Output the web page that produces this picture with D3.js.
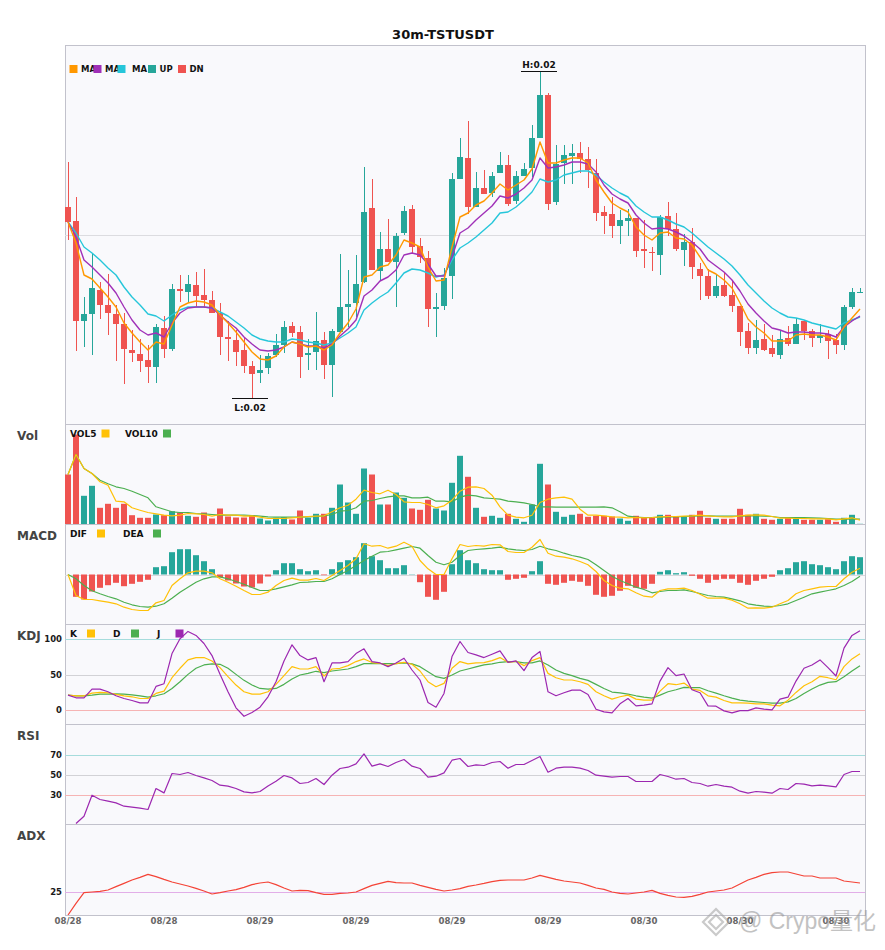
<!DOCTYPE html>
<html>
<head>
<meta charset="utf-8">
<script src="https://cdn.jsdelivr.net/npm/d3@7/dist/d3.min.js"></script>
<style>
  body { margin: 0; background: #fff; }
  svg { display: block; font-family: "DejaVu Sans", sans-serif; }
</style>
</head>
<body>
<div id="wrapper"></div>
<script>
// prices are stored in units of 0.00001 USDT
const PRICE_UNIT = 1e-5

const open = [
  2028, 2014, 1914, 1921, 1945, 1930, 1921, 1911, 1885, 1881,
  1875, 1868, 1907, 1886, 1946, 1943, 1950, 1940, 1935, 1922,
  1898, 1895, 1885, 1869, 1862, 1867, 1880, 1890, 1909, 1903,
  1880, 1883, 1895, 1870, 1903, 1928, 1932, 1953, 2027, 1964,
  1986, 1973, 2002, 2026, 1989, 1977, 1926, 1929, 1959, 2056,
  2077, 2028, 2047, 2042, 2062, 2070, 2034, 2059, 2067, 2097,
  2140, 2033, 2072, 2079, 2082, 2076, 2062, 2023, 2021, 2009,
  2014, 2017, 1986, 1983, 1980, 2019, 2006, 1985, 1993, 1966,
  1959, 1939, 1950, 1940, 1929, 1904, 1887, 1896, 1887, 1880,
  1897, 1891, 1914, 1904, 1897, 1901, 1895, 1890, 1928, 1942,
]
const high = [
  2073, 2038, 1938, 1982, 1953, 1961, 1930, 1922, 1905, 1896,
  1890, 1911, 1919, 1951, 1960, 1960, 1963, 1966, 1944, 1932,
  1914, 1905, 1897, 1874, 1880, 1882, 1901, 1914, 1913, 1909,
  1896, 1923, 1903, 1906, 1981, 1965, 1980, 2068, 2056, 2003,
  2016, 2002, 2029, 2030, 1997, 1984, 1942, 1967, 2062, 2097,
  2114, 2063, 2065, 2063, 2083, 2080, 2064, 2072, 2110, 2163,
  2142, 2090, 2090, 2091, 2093, 2088, 2076, 2029, 2038, 2025,
  2026, 2017, 2015, 1988, 2020, 2033, 2022, 2001, 2007, 1972,
  1966, 1960, 1963, 1954, 1929, 1912, 1915, 1911, 1900, 1905,
  1909, 1917, 1914, 1906, 1911, 1905, 1901, 1930, 1947, 1947,
]
const low = [
  1995, 1884, 1888, 1880, 1916, 1900, 1874, 1851, 1873, 1863,
  1852, 1852, 1877, 1884, 1933, 1932, 1928, 1927, 1922, 1880,
  1874, 1869, 1862, 1837, 1852, 1861, 1878, 1882, 1898, 1857,
  1865, 1865, 1856, 1838, 1903, 1908, 1918, 1952, 1965, 1955,
  1973, 1928, 2000, 1982, 1972, 1908, 1898, 1925, 1936, 2056,
  2021, 2028, 2041, 2038, 2062, 2029, 2031, 2059, 2058, 2097,
  2025, 2030, 2051, 2051, 2062, 2047, 2014, 2001, 1997, 1991,
  1999, 1978, 1967, 1964, 1960, 1999, 1984, 1969, 1956, 1935,
  1936, 1937, 1938, 1923, 1889, 1881, 1881, 1884, 1878, 1876,
  1889, 1891, 1895, 1888, 1892, 1876, 1881, 1885, 1926, 1942,
]
const close = [
  2013, 1914, 1921, 1947, 1930, 1922, 1911, 1886, 1882, 1874,
  1868, 1908, 1886, 1946, 1944, 1951, 1939, 1935, 1922, 1898,
  1896, 1883, 1869, 1861, 1865, 1879, 1890, 1908, 1902, 1878,
  1882, 1894, 1870, 1904, 1928, 1931, 1951, 2023, 1965, 1986,
  1973, 1999, 2024, 1988, 1978, 1926, 1928, 1957, 2056, 2078,
  2028, 2047, 2041, 2059, 2070, 2031, 2059, 2066, 2097, 2140,
  2031, 2071, 2080, 2082, 2076, 2065, 2022, 2019, 2009, 2015,
  2017, 1984, 1984, 1982, 2018, 2006, 1986, 1993, 1968, 1959,
  1939, 1949, 1939, 1929, 1903, 1887, 1895, 1885, 1881, 1896,
  1891, 1911, 1904, 1897, 1900, 1894, 1890, 1928, 1943, 1943,
]
const ma5 = [
  2013, 1992, 1960, 1956, 1947, 1938, 1928, 1912, 1902, 1893,
  1885, 1893, 1891, 1910, 1928, 1932, 1934, 1933, 1930, 1920,
  1912, 1903, 1893, 1883, 1876, 1875, 1879, 1888, 1893, 1891,
  1888, 1889, 1885, 1890, 1902, 1912, 1926, 1958, 1960, 1968,
  1970, 1980, 1995, 1992, 1988, 1968, 1954, 1955, 1988, 2018,
  2022, 2030, 2034, 2042, 2051, 2045, 2050, 2055, 2066, 2093,
  2072, 2072, 2075, 2077, 2077, 2072, 2055, 2043, 2032, 2027,
  2023, 2008, 2000, 1995, 2002, 2003, 1997, 1996, 1990, 1978,
  1965, 1961, 1955, 1947, 1932, 1916, 1908, 1902, 1894, 1894,
  1894, 1900, 1901, 1900, 1900, 1898, 1895, 1908, 1917, 1926,
]
const ma10 = [
  2013, 1998, 1975, 1968, 1960, 1952, 1942, 1928, 1915, 1905,
  1900, 1902, 1898, 1912, 1922, 1927, 1928, 1928, 1927, 1920,
  1913, 1907, 1898, 1891, 1885, 1884, 1885, 1888, 1893, 1891,
  1889, 1889, 1887, 1891, 1899, 1906, 1915, 1939, 1945, 1954,
  1958, 1965, 1980, 1982, 1980, 1971, 1959, 1959, 1978, 2002,
  2007, 2015, 2022, 2029, 2039, 2037, 2041, 2047, 2055, 2077,
  2067, 2068, 2070, 2073, 2073, 2071, 2063, 2050, 2041, 2036,
  2032, 2020, 2012, 2006, 2007, 2006, 2003, 1999, 1993, 1986,
  1975, 1969, 1963, 1955, 1944, 1931, 1922, 1914, 1907, 1905,
  1902, 1903, 1903, 1902, 1902, 1901, 1898, 1908, 1914, 1919,
]
const ma20 = [
  2013, 2002, 1988, 1982, 1975, 1967, 1960, 1948, 1938, 1930,
  1921, 1919, 1914, 1920, 1925, 1928, 1928, 1928, 1927, 1923,
  1919, 1913, 1907, 1900, 1896, 1894, 1893, 1893, 1896, 1895,
  1893, 1892, 1890, 1892, 1897, 1902, 1908, 1925, 1932, 1938,
  1943, 1952, 1962, 1966, 1965, 1962, 1958, 1960, 1975, 1987,
  1992, 1998, 2005, 2012, 2022, 2023, 2028, 2035, 2043, 2056,
  2053, 2055, 2060, 2062, 2064, 2064, 2060, 2053, 2047, 2042,
  2038, 2029, 2023, 2018, 2018, 2015, 2011, 2008, 2002, 1995,
  1988, 1982, 1976, 1969, 1960, 1950, 1942, 1934, 1927, 1922,
  1918, 1917, 1915, 1912, 1910, 1908, 1906, 1912, 1915, 1918,
]

const volume = [
  50, 90, 28.7, 38.7, 16.7, 20.7, 16.7, 20.7, 9.3, 6.7,
  6.7, 10, 9.3, 13.3, 12, 8.7, 7.7, 12, 6, 16,
  8, 7, 7, 9.3, 6, 4, 6.7, 7.3, 5, 14,
  6.7, 10.7, 10.7, 16.7, 40, 22, 10.7, 56, 50, 20,
  20, 32, 26.7, 16, 14.7, 24.7, 16, 14, 41.7, 68.7,
  47.7, 16.7, 7.7, 8.7, 6.7, 10.7, 5.7, 2.7, 20, 60.7,
  40, 12.7, 7.7, 9.7, 10.7, 7.7, 8.7, 8.7, 8, 6,
  3.7, 8.7, 6.7, 6.7, 9.7, 9.7, 7.7, 7.7, 9.7, 13.7,
  6.7, 5.7, 5.7, 5.7, 15.7, 9.7, 10.7, 5.7, 4.7, 5.7,
  6.7, 5.7, 4.7, 4.7, 4.7, 5.3, 2.7, 6.7, 9.7, 0.7,
]
const vol5 = [
  50, 70, 56, 51, 42.7, 39.3, 23.3, 22.7, 16.7, 14.3,
  12, 10.7, 9.3, 8.7, 9.3, 11, 10.7, 10, 8.3, 10,
  9.3, 9.3, 8.3, 8.7, 7.3, 6, 6, 6, 6.7, 7.3,
  8, 8.3, 8.7, 12.7, 16.7, 19.3, 25.3, 34.3, 32, 30.7,
  34.3, 30, 22.7, 22, 22, 20, 16.7, 18.7, 24.3, 33.3,
  37.3, 37.7, 36, 29.3, 17.7, 9.3, 7.3, 6.7, 9.3, 22,
  25.3, 26.7, 27.3, 25.3, 15.3, 9.3, 9.3, 8.7, 7.7, 7.3,
  6.7, 7, 6.7, 7, 7.7, 8, 8, 8.3, 8.7, 9.3,
  8.7, 8, 7.7, 7.7, 8.7, 9.3, 9.7, 9.3, 8, 6.3,
  6.3, 6, 6, 5.7, 5.7, 5.7, 4.7, 5.7, 6.7, 4.3,
]
const vol10 = [
  50, 70, 56, 51, 44.3, 40.7, 37.7, 36, 33.3, 30,
  26.7, 17.7, 15.3, 12.7, 12, 12, 11, 10.7, 10, 9.3,
  9.3, 9.3, 9.3, 9, 8.3, 7.7, 7.3, 7.3, 7.3, 7.3,
  7.7, 8, 8.7, 10, 13.3, 14, 16.7, 23.3, 24, 26,
  27.7, 28.7, 28.7, 26.7, 26.7, 27.3, 23.3, 23.3, 22.7, 27.3,
  29.3, 28.7, 26.7, 26, 25.3, 23.3, 22.7, 21.7, 20, 17.7,
  17.7, 17.3, 17.3, 17.3, 17.3, 17.3, 17.3, 17.7, 16.7, 12.7,
  8.3, 7.3, 7, 7, 7.3, 7.7, 7.7, 8, 8.3, 8.7,
  8.7, 8.3, 8.3, 8.3, 8.3, 8.7, 8.7, 8.3, 8, 7,
  7, 7, 7, 6.7, 6.3, 6, 5.3, 5.3, 5.7, 5.3,
]

const macdHist = [
  0, -22.3, -25, -17, -13.3, -10.7, -8.3, -11.7, -9.3, -7.3,
  -5.3, 7.3, 8.3, 22.3, 25.3, 25.3, 19.3, 13.3, 5.3, -3,
  -6, -9, -12, -13, -9, -2, 4.3, 11.3, 11.3, 5.3,
  3.3, 4.3, -0.7, 5.3, 12.3, 14.3, 17.3, 31.3, 18.3, 14.3,
  6.3, 6.3, 9.3, 0.3, -7.7, -22.3, -25.3, -17.3, 10.3, 24.3,
  14.3, 11.3, 5.3, 4.3, 4.3, -5.3, -4.3, -3.3, 3.3, 13.3,
  -9.3, -10.3, -8.3, -6.3, -7.3, -11.3, -20.3, -22.3, -21.3, -16.3,
  -11.3, -13.3, -14.3, -9.3, 2.7, 4.3, 1.3, 2.3, -1.3, -4.3,
  -8.3, -5.3, -4.3, -4.3, -8.3, -10.3, -6.3, -4.3, -2.3, 4.3,
  6.3, 12.3, 13.3, 10.3, 9.3, 7.3, 5.3, 13.3, 18.3, 17.3,
]
const dif = [
  0, -21, -25, -25, -26.3, -27.7, -29.3, -32.7, -35, -36,
  -36, -28.3, -26, -11, -4.3, 1.7, 3.3, 3.3, 1.7, -4.3,
  -7.7, -11.7, -16, -20, -20, -17.7, -11, -6, -3.7, -5.7,
  -5.7, -4, -6, -1, 4, 9, 15.7, 30.7, 28.3, 29,
  26.3, 28.3, 32.3, 28.3, 14, 5.7, 0, 0, 15.7, 30,
  28, 29, 28.3, 30, 29.7, 23, 22, 22, 27.3, 35,
  21.3, 18.3, 17.3, 15.7, 13, 9.7, 3, -6, -11, -13.7,
  -14.3, -18.3, -21.7, -22.7, -16, -14.3, -14.3, -13.7, -16, -19.7,
  -23.7, -23.7, -23.7, -25.7, -29.3, -33.7, -33.3, -33.7, -32.7, -29.3,
  -26, -19.3, -16, -14.3, -12.7, -12, -12, -4.3, 2.3, 6.3,
]
const dea = [
  0, -4.3, -11, -16.3, -19.3, -22, -24.3, -27.7, -30.3, -32,
  -32.7, -31.7, -29.3, -23.7, -17.7, -12.7, -7.7, -4.3, -2.3, -2.3,
  -4.3, -7, -9.7, -13, -16, -16, -14.3, -12.3, -10.3, -8,
  -7.7, -7, -7, -4.3, 0, 4, 9, 14, 18.3, 22.3,
  23, 24.7, 26.3, 28, 26.3, 19, 12.3, 9.7, 12.3, 19,
  24, 25, 25.7, 26.3, 27.3, 25.7, 24.7, 24, 25, 28.3,
  25.7, 24, 21.3, 19, 17.3, 15, 9.7, 4, -1.7, -6,
  -9.3, -12.7, -15, -18.3, -17, -16, -16, -15.3, -17, -19,
  -21, -22, -22.7, -24.3, -26.3, -29.3, -30.7, -31.7, -32, -31,
  -29.3, -26, -22.7, -19.3, -17.7, -16, -14.3, -11, -7, -1.7,
]

const kLine = [
  21.1, 20.2, 20.2, 23.9, 24.9, 24.4, 22.1, 20.2, 18.8, 16.4,
  16.4, 23.5, 26.8, 45.5, 58.7, 70.4, 73.7, 73.7, 69, 59.6,
  47, 35.2, 25.8, 22.5, 22.5, 25.8, 36.2, 48.4, 61, 57.7,
  57.7, 61, 47.9, 57.7, 58.7, 62.4, 68.1, 71.8, 66.7, 65.7,
  62.4, 65.3, 67.1, 64.3, 54.9, 39.9, 32.9, 37.6, 58.7, 68.1,
  64.8, 66.2, 66.7, 69.5, 73.7, 67.1, 68.5, 62.4, 69.5, 73.7,
  51.6, 45.5, 42.3, 42.3, 39.9, 36.2, 25.8, 20.2, 15.5, 18.8,
  21.1, 15.5, 14.1, 14.1, 26.8, 37.1, 35.7, 38, 29.6, 27.7,
  20.2, 18.3, 13.6, 10.3, 10.3, 9.9, 8.9, 8.9, 7, 6.1,
  14.1, 24.9, 34.3, 39.9, 47.4, 45.5, 42.7, 61, 71.8, 78.9,
]
const dLine = [
  21.1, 20.2, 20.2, 21.1, 22.5, 22.5, 23, 22.5, 21.6, 20.2,
  18.3, 20.2, 23, 30.5, 39.9, 50.2, 58.7, 63.4, 64.8, 64.3,
  58.7, 50.2, 41.8, 35.2, 30.5, 29.6, 30.5, 36.2, 43.7, 49.3,
  51.6, 54.5, 52.6, 54.9, 56.3, 57.7, 61, 65.3, 65.3, 65.3,
  65.3, 65.3, 66.2, 64.8, 61, 54, 47, 44.6, 49.3, 54.9,
  57.7, 60.6, 63.4, 64.8, 67.1, 68.1, 68.1, 66.2, 66.2, 69,
  63.4, 56.3, 51.6, 48.4, 44.6, 41.8, 36.2, 30.5, 25.4, 24.4,
  22.5, 20.2, 18.3, 16.9, 21.1, 25.8, 28.6, 31.9, 31.5, 31.5,
  27.2, 23.9, 20.2, 16.9, 14.1, 12.7, 11.7, 10.8, 9.9, 9.9,
  11.7, 16.4, 23.5, 29.6, 35.2, 39, 39.9, 47, 54.9, 62.4,
]
const jLine = [
  21.1, 17.4, 17.4, 29.6, 29.6, 25.8, 20.2, 16.4, 13.6, 10.3,
  10.3, 33.3, 37.1, 79.3, 100, 110.3, 104.7, 93.4, 76.5, 50.2,
  25.8, 3.3, -8.5, -3.3, 4.2, 18.8, 39.9, 69, 91.6, 76.5,
  70.4, 73.7, 39.9, 66.2, 66.2, 68.1, 79.3, 85.9, 68.1, 66.2,
  61, 66.2, 72.8, 56.3, 42.3, 10.8, 4.2, 23.5, 75.1, 96.2,
  80.8, 77.5, 73.7, 78.4, 83.1, 67.1, 69, 55.4, 73.7, 82.2,
  25.8, 20.2, 24.4, 28.2, 28.2, 22.1, 1.4, -2.3, -3.8, 8.9,
  16.4, 6.1, 7, 8.9, 40.8, 59.6, 48.4, 50.7, 28.6, 24.4,
  6.1, 5.6, -0.9, -3.8, -0.5, -0.5, 3.3, 1.4, 0.5, 15.5,
  18.3, 40.8, 58.7, 63.4, 70.4, 59.6, 47.9, 86.9, 104.7, 111.3,
]

const rsi = [
  null, 1, 8.3, 29.3, 25, 23.3, 21.6, 18.3, 17.3, 16.3,
  15, 36, 31.6, 51, 50, 52, 49, 46.6, 44, 39.3,
  38.3, 36, 32.6, 31.6, 33, 38.6, 43.3, 49, 46.6, 41,
  42, 46, 40, 49.3, 56, 57.3, 60.6, 70.6, 58.3, 60.6,
  58, 62, 65, 58.3, 56, 47.3, 48.3, 51.6, 64.3, 66,
  58, 59.6, 59, 62, 63, 56.3, 60, 60, 64, 68,
  52.3, 56.3, 57.3, 57.3, 56.3, 54, 49.3, 48.3, 47.3, 48,
  48, 43, 43, 43, 50, 48, 45.3, 46, 42, 41,
  38.3, 40, 38.3, 37.3, 33.3, 31.3, 33, 32.3, 31.3, 36,
  35, 41, 40.3, 38.6, 39.3, 38.6, 37.6, 50, 53, 53,
]
const adx = [
  13.5, 19.3, 24.7, 25, 25.3, 26, 27.7, 29.3, 31, 32.3,
  33.8, 32.7, 31.3, 30, 29, 28, 26.8, 25.5, 24, 24.7,
  25.5, 26.2, 27.3, 28.7, 29.5, 30, 28.7, 27, 25.5, 25.8,
  25.7, 24.7, 23.8, 23.8, 24.3, 24.5, 25, 26.7, 28.3, 29.3,
  30.3, 29.7, 29.5, 29.5, 28.3, 27.3, 26.3, 25.5, 26, 26.7,
  27.8, 28.5, 29.3, 30.2, 30.8, 31, 31, 31, 32, 33.3,
  32.3, 31.3, 30.5, 30, 29.5, 28.3, 27, 26.3, 25, 24.3,
  24, 24.5, 25, 25.8, 24.3, 23.3, 22.5, 22.3, 22.8, 23.8,
  25, 25.5, 26, 27, 29, 31, 32.3, 33.8, 34.7, 35,
  35, 34, 33, 33, 32, 32, 32, 30.5, 30, 29.5,
]

const tickIndex = [0, 12, 24, 36, 48, 60, 72, 84, 96]
const tickLabels = ["08/28", "08/28", "08/29", "08/29", "08/29", "08/29", "08/30", "08/30", "08/30"]

const renderChart = () => {
  const UP = "#26a69a"
  const DOWN = "#ef5350"

  // 1) Dimensions
  const dimensions = {
    width: 885,
    height: 950,
    left: 65,
    right: 865,
  }
  const panels = {
    main: { top: 45, bottom: 424 },
    vol: { top: 424, bottom: 524 },
    macd: { top: 524, bottom: 624 },
    kdj: { top: 624, bottom: 724 },
    rsi: { top: 724, bottom: 824 },
    adx: { top: 824, bottom: 915 },
  }

  // 2) Draw canvas
  const svg = d3
    .select("#wrapper")
    .append("svg")
    .attr("width", dimensions.width)
    .attr("height", dimensions.height)

  const defs = svg.append("defs")
  Object.entries(panels).forEach(([name, p]) => {
    defs
      .append("clipPath")
      .attr("id", `clip-${name}`)
      .append("rect")
      .attr("x", dimensions.left)
      .attr("y", p.top)
      .attr("width", dimensions.right - dimensions.left)
      .attr("height", p.bottom - p.top)
  })

  svg
    .append("text")
    .attr("x", 443)
    .attr("y", 39)
    .attr("text-anchor", "middle")
    .attr("font-size", 13)
    .attr("font-weight", "bold")
    .attr("fill", "#111")
    .text("30m-TSTUSDT")

  Object.values(panels).forEach((p) => {
    svg
      .append("rect")
      .attr("x", dimensions.left + 0.5)
      .attr("y", p.top + 0.5)
      .attr("width", dimensions.right - dimensions.left)
      .attr("height", p.bottom - p.top)
      .attr("fill", "#f9f9fc")
      .attr("stroke", "#c2c2cc")
  })

  // 3) Scales
  const xScale = d3
    .scaleBand()
    .domain(d3.range(open.length))
    .range([dimensions.left - 1, dimensions.right - 1])
    .paddingInner(0.25)
    .paddingOuter(0.125)
  const cx = (i) => xScale(i) + xScale.bandwidth() / 2

  const yMain = d3.scaleLinear().domain([1811, 2190]).range([424, 45])
  const yVol = d3.scaleLinear().domain([0, 100]).range([524.5, 424.5])
  const yMacd = d3.scaleLinear().domain([-50, 50]).range([624.5, 524.5])
  const yKdj = d3.scaleLinear().domain([-20, 120]).range([724.5, 624.5])
  const yRsi = d3.scaleLinear().domain([0, 100]).range([824.5, 724.5])
  const yAdx = d3.scaleLinear().domain([13.5, 58.5]).range([915, 825])

  const layer = (name) => svg.append("g").attr("clip-path", `url(#clip-${name})`)

  const drawLine = (g, values, y, color, width = 1.2) => {
    const lineGenerator = d3
      .line()
      .defined((d) => d != null)
      .x((d, i) => cx(i))
      .y((d) => y(d))
    g.append("path")
      .attr("d", lineGenerator(values))
      .attr("fill", "none")
      .attr("stroke", color)
      .attr("stroke-width", width)
      .attr("stroke-linejoin", "round")
  }

  const refLine = (g, y, v, color) => {
    g.append("line")
      .attr("x1", dimensions.left)
      .attr("x2", dimensions.right)
      .attr("y1", Math.round(y(v)) + 0.5)
      .attr("y2", Math.round(y(v)) + 0.5)
      .attr("stroke", color)
      .attr("stroke-width", 1)
  }

  const legend = (items, y) => {
    items.forEach((it) => {
      if (it.box) {
        svg
          .append("rect")
          .attr("x", it.box)
          .attr("y", y - 4)
          .attr("width", 8)
          .attr("height", 8)
          .attr("fill", it.color)
      }
      if (it.label) {
        svg
          .append("text")
          .attr("x", it.x)
          .attr("y", y + 3.3)
          .attr("font-size", it.size || 9)
          .attr("font-weight", "bold")
          .attr("fill", "#111")
          .text(it.label)
      }
    })
  }

  const leftTicks = (y, values) => {
    const g = svg
      .append("g")
      .attr("transform", `translate(${dimensions.left},0)`)
      .call(d3.axisLeft(y).tickValues(values).tickSize(0).tickPadding(3))
    g.select(".domain").remove()
    g.selectAll("text")
      .attr("font-size", 8.5)
      .attr("font-weight", "bold")
      .attr("font-family", "DejaVu Sans")
      .attr("fill", "#1a1a1a")
  }

  // 4) Main candle panel
  const main = layer("main")
  refLine(main, yMain, 2000, "#dcdce0")

  const candles = main
    .selectAll(".candle")
    .data(open.map((o, i) => ({ i, o, h: high[i], l: low[i], c: close[i] })))
    .join("g")
    .attr("class", "candle")

  candles
    .append("line")
    .attr("x1", (d) => Math.floor(cx(d.i)) + 0.5)
    .attr("x2", (d) => Math.floor(cx(d.i)) + 0.5)
    .attr("y1", (d) => yMain(d.h))
    .attr("y2", (d) => yMain(d.l))
    .attr("stroke", (d) => (d.c >= d.o ? UP : DOWN))
    .attr("stroke-width", 1)

  candles
    .append("rect")
    .attr("x", (d) => xScale(d.i))
    .attr("width", xScale.bandwidth())
    .attr("y", (d) => yMain(Math.max(d.o, d.c)))
    .attr("height", (d) => Math.max(1, Math.abs(yMain(d.o) - yMain(d.c))))
    .attr("fill", (d) => (d.c >= d.o ? UP : DOWN))

  drawLine(main, ma20, yMain, "#26c6da", 1.4)
  drawLine(main, ma10, yMain, "#a030b8", 1.4)
  drawLine(main, ma5, yMain, "#ff9800", 1.4)

  // high / low markers
  const hiIndex = d3.maxIndex(high)
  const loIndex = d3.minIndex(low)
  const hiY = Math.round(yMain(high[hiIndex])) - 0.5
  const loY = Math.round(yMain(low[loIndex])) + 0.5
  svg
    .append("line")
    .attr("x1", cx(hiIndex) - 19)
    .attr("x2", cx(hiIndex) + 17)
    .attr("y1", hiY)
    .attr("y2", hiY)
    .attr("stroke", "#111")
    .attr("stroke-width", 1.2)
  svg
    .append("text")
    .attr("x", cx(hiIndex) - 1)
    .attr("y", hiY - 4)
    .attr("text-anchor", "middle")
    .attr("font-size", 9)
    .attr("font-weight", "bold")
    .attr("fill", "#111")
    .text(`H:${(high[hiIndex] * PRICE_UNIT).toFixed(2)}`)
  svg
    .append("line")
    .attr("x1", cx(loIndex) - 20)
    .attr("x2", cx(loIndex) + 16)
    .attr("y1", loY)
    .attr("y2", loY)
    .attr("stroke", "#111")
    .attr("stroke-width", 1.2)
  svg
    .append("text")
    .attr("x", cx(loIndex) - 2)
    .attr("y", loY + 12)
    .attr("text-anchor", "middle")
    .attr("font-size", 9)
    .attr("font-weight", "bold")
    .attr("fill", "#111")
    .text(`L:${(low[loIndex] * PRICE_UNIT).toFixed(2)}`)

  legend(
    [
      { box: 69.5, color: "#ff9800", x: 81, label: "MA", size: 8.5 },
      { box: 93.5, color: "#a030b8", x: 105, label: "MA", size: 8.5 },
      { box: 117.5, color: "#26c6da", x: 132, label: "MA", size: 8.5 },
      { box: 148, color: UP, x: 159.5, label: "UP", size: 8.5 },
      { box: 178, color: DOWN, x: 189.5, label: "DN", size: 8.5 },
    ],
    69
  )

  // 5) Volume panel
  const vol = layer("vol")
  vol
    .selectAll("rect")
    .data(volume)
    .join("rect")
    .attr("x", (d, i) => xScale(i))
    .attr("width", xScale.bandwidth())
    .attr("y", (d) => yVol(d))
    .attr("height", (d) => yVol(0) - yVol(d))
    .attr("fill", (d, i) => (close[i] >= open[i] ? UP : DOWN))
  drawLine(vol, vol10, yVol, "#4caf50", 1.2)
  drawLine(vol, vol5, yVol, "#ffc107", 1.2)
  legend(
    [
      { x: 70, label: "VOL5", box: 101.5, color: "#ffc107" },
      { x: 125, label: "VOL10", box: 163, color: "#4caf50" },
    ],
    433.5
  )

  // 6) MACD panel
  const macd = layer("macd")
  refLine(macd, yMacd, 0, "#d8d8dc")
  macd
    .selectAll("rect")
    .data(macdHist)
    .join("rect")
    .attr("x", (d, i) => xScale(i))
    .attr("width", xScale.bandwidth())
    .attr("y", (d) => Math.min(yMacd(d), yMacd(0)))
    .attr("height", (d) => Math.abs(yMacd(d) - yMacd(0)))
    .attr("fill", (d) => (d >= 0 ? UP : DOWN))
  drawLine(macd, dea, yMacd, "#4caf50", 1.2)
  drawLine(macd, dif, yMacd, "#ffc107", 1.2)
  legend(
    [
      { x: 70, label: "DIF", box: 97, color: "#ffc107" },
      { x: 123, label: "DEA", box: 153, color: "#4caf50" },
    ],
    533.5
  )

  // 7) KDJ panel
  const kdj = layer("kdj")
  refLine(kdj, yKdj, 100, "#a6dcdc")
  refLine(kdj, yKdj, 50, "#d2d2d6")
  refLine(kdj, yKdj, 0, "#f6b4b4")
  drawLine(kdj, dLine, yKdj, "#4caf50", 1.2)
  drawLine(kdj, kLine, yKdj, "#ffc107", 1.2)
  drawLine(kdj, jLine, yKdj, "#9c27b0", 1.2)
  leftTicks(yKdj, [100, 50, 0])
  legend(
    [
      { x: 70, label: "K", box: 87, color: "#ffc107" },
      { x: 113, label: "D", box: 131, color: "#4caf50" },
      { x: 157, label: "J", box: 175.5, color: "#9c27b0" },
    ],
    633.5
  )

  // 8) RSI panel
  const rsiG = layer("rsi")
  refLine(rsiG, yRsi, 70, "#a6dcdc")
  refLine(rsiG, yRsi, 50, "#d2d2d6")
  refLine(rsiG, yRsi, 30, "#f6b4b4")
  drawLine(rsiG, rsi, yRsi, "#9c27b0", 1.2)
  leftTicks(yRsi, [70, 50, 30])

  // 9) ADX panel
  const adxG = layer("adx")
  refLine(adxG, yAdx, 25, "#e2aee8")
  drawLine(adxG, adx, yAdx, "#f44336", 1.2)
  leftTicks(yAdx, [25])

  // panel titles
  const titles = [
    ["Vol", 440],
    ["MACD", 540],
    ["KDJ", 640],
    ["RSI", 740],
    ["ADX", 840],
  ]
  titles.forEach(([t, y]) => {
    svg
      .append("text")
      .attr("x", 17)
      .attr("y", y)
      .attr("font-size", 12)
      .attr("font-weight", "bold")
      .attr("fill", "#444")
      .text(t)
  })

  // 10) X axis
  const xAxis = svg
    .append("g")
    .attr("transform", `translate(0,${panels.adx.bottom})`)
    .call(
      d3
        .axisBottom(xScale)
        .tickValues(tickIndex)
        .tickFormat((d, i) => tickLabels[i])
        .tickSize(0)
        .tickPadding(3)
    )
  xAxis.select(".domain").remove()
  xAxis
    .selectAll("text")
    .attr("font-size", 8.6)
    .attr("font-weight", "bold")
    .attr("font-family", "DejaVu Sans")
    .attr("fill", "#666")

  // 11) Watermark
  const mark = svg.append("g").attr("opacity", 0.6)
  mark
    .append("path")
    .attr("d", "M716,909 L729,922 L716,935 L703,922 Z M716,915 L723,922 L716,929 L709,922 Z")
    .attr("fill", "none")
    .attr("stroke", "#a8a8a8")
    .attr("stroke-width", 2.2)
  mark
    .append("text")
    .attr("x", 739)
    .attr("y", 929)
    .attr("font-size", 23)
    .attr("font-family", "'Liberation Sans', 'Noto Sans CJK SC', sans-serif")
    .attr("fill", "#9a9a9a")
    .text("@ Crypo量化")
}

renderChart()
</script>
</body>
</html>
